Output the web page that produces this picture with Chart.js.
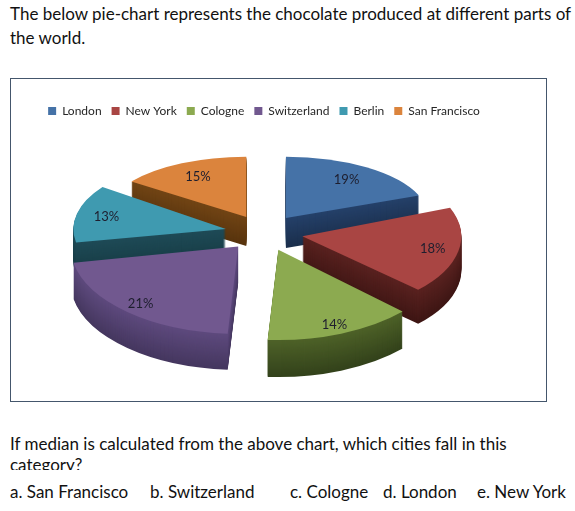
<!DOCTYPE html>
<html>
<head>
<meta charset="utf-8">
<script src="https://cdn.jsdelivr.net/npm/chart.js@4/dist/chart.umd.min.js"></script>
<style>
  html, body { margin:0; padding:0; background:#fff; }
  body { width:575px; height:511px; overflow:hidden; position:relative; font-family: Lato, "Open Sans", sans-serif; color:#111; }
  .txt { position:absolute; left:10px; font-size:17px; white-space:nowrap; }
  #title { top:2px; line-height:24px; }
  #question { top:433px; line-height:21px; height:37px; overflow:hidden; }
  .opt { position:absolute; top:482px; font-size:17px; line-height:20px; white-space:nowrap; }
  #box { position:absolute; left:10px; top:78px; width:535px; height:322px; border:1px solid #44566c; }
  #wrap { position:absolute; left:0; top:0; width:535px; height:322px; }
</style>
</head>
<body>
<div id="title" class="txt">The below pie-chart represents the chocolate produced at different parts of<br>the world.</div>
<div id="box"><div id="wrap"><canvas id="c"></canvas></div></div>
<div id="question" class="txt">If median is calculated from the above chart, which cities fall in this<br>category?</div>
<span class="opt" style="left:10px">a. San Francisco</span>
<span class="opt" style="left:150px">b. Switzerland</span>
<span class="opt" style="left:290px">c. Cologne</span>
<span class="opt" style="left:383px">d. London</span>
<span class="opt" style="left:477px">e. New York</span>
<script>
// ---- data ----
const categories = ['London', 'New York', 'Cologne', 'Switzerland', 'Berlin', 'San Francisco'];
const shares = [19, 18, 14, 21, 13, 15];

// ---- styles ----
const topColors = ['#4572A7', '#A94543', '#8CAA50', '#71588F', '#3F9AB0', '#DB843D'];
const sideTopColors = ['#25416A', '#5A2220', '#4E6228', '#5E4A7E', '#1F4B57', '#724515'];
const sideBottomColors = ['#1B2F4C', '#3E1614', '#33421B', '#45375F', '#163A43', '#58340E'];

const RX = 156, RY = 75;      // screen half-axes of the tilted pie
const PX = 0.10, PY = 0.22;   // fake perspective (front bigger)
const EX = 39, EY = 18;       // explosion distance on screen
const DEPTH = 33;             // thickness in px

function hexToRgb(h){ const n = parseInt(h.slice(1),16); return [(n>>16)&255,(n>>8)&255,n&255]; }
function mix(a,b,t){ const A=hexToRgb(a), B=hexToRgb(b); return 'rgb(' + A.map((v,k)=>Math.round(v+(B[k]-v)*t)).join(',') + ')'; }

function drawAt(ctx, arc, ox, oy, sx, sy){
  ctx.save();
  ctx.translate(ox, oy);
  ctx.scale(sx, sy);
  ctx.translate(-arc.x, -arc.y);
  arc.draw(ctx);
  ctx.restore();
}

const pie3d = {
  id: 'pie3d',
  beforeDatasetsDraw(chart){
    const meta = chart.getDatasetMeta(0);
    const ctx = chart.ctx;
    const items = meta.data.map((arc, i) => ({arc, i, h: (arc.startAngle + arc.endAngle) / 2}));
    const labels = [];
    items.slice().sort((p, q) => Math.sin(p.h) - Math.sin(q.h)).forEach(({arc, i, h}) => {
      const v = Math.sin(h);
      const R = arc.outerRadius;
      const fx = 1 + PX * v, fy = 1 + PY * v;
      const sx = RX / R * fx, sy = RY / R * fy;
      const ox = arc.x + EX * Math.cos(h), oy = arc.y + EY * v;
      const depth = Math.round(DEPTH * (1 + 0.12 * v));
      const orig = arc.options;
      for (let d = depth; d >= 1; d--) {
        const t = d / depth;
        arc.options = Object.assign({}, orig, {backgroundColor: mix(sideTopColors[i], sideBottomColors[i], t), borderWidth: 0});
        drawAt(ctx, arc, ox, oy + d, sx, sy);
      }
      arc.options = orig;
      drawAt(ctx, arc, ox, oy, sx, sy);
      const f = 0.82 + 0.08 * v;
      labels.push({x: ox + f * RX * fx * Math.cos(h), y: oy + f * RY * fy * v, text: shares[i] + '%'});
    });
    ctx.save();
    ctx.font = '13px Lato';
    ctx.fillStyle = '#1e1e2e';
    ctx.textAlign = 'center';
    ctx.textBaseline = 'middle';
    labels.forEach(l => ctx.fillText(l.text, l.x, l.y));
    ctx.restore();
    return false;
  }
};

new Chart(document.getElementById('c'), {
  type: 'pie',
  data: {
    labels: categories,
    datasets: [{ data: shares, backgroundColor: topColors, borderWidth: 0 }]
  },
  options: {
    responsive: true,
    maintainAspectRatio: false,
    animation: false,
    layout: { padding: { top: 16, bottom: 62, left: 0, right: 29 } },
    plugins: {
      tooltip: { enabled: false },
      legend: {
        position: 'top',
        labels: { boxWidth: 8, boxHeight: 8, padding: 10, color: '#262626', font: { family: 'Lato', size: 12 } }
      }
    }
  },
  plugins: [pie3d]
});
</script>
</body>
</html>
